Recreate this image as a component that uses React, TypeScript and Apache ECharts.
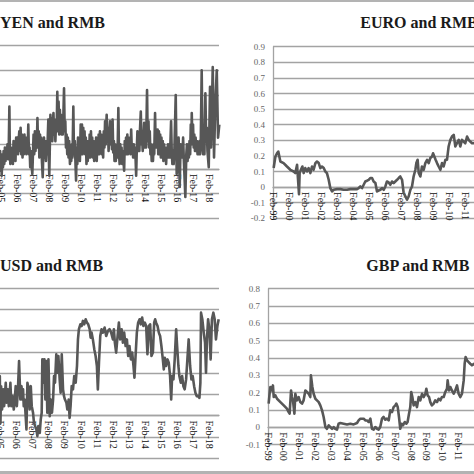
import React, { useEffect, useRef } from "react";
import * as echarts from "echarts";

// x values are years since Feb-1999 (0 = Feb-99)
const yearLabels = [
  "Feb-99", "Feb-00", "Feb-01", "Feb-02", "Feb-03", "Feb-04", "Feb-05", "Feb-06", "Feb-07", "Feb-08",
  "Feb-09", "Feb-10", "Feb-11", "Feb-12", "Feb-13", "Feb-14", "Feb-15", "Feb-16", "Feb-17", "Feb-18", "Feb-19",
];

const titles = ["YEN and RMB", "EURO and RMB", "USD and RMB", "GBP and RMB"];

const yenData = [
  [5.9, 0.05], [5.94, 0.073], [5.97, -0.007], [6.0, 0.06], [6.04, -0.027], [6.08, 0.06], [6.12, 0.007],
  [6.16, 0.073], [6.2, 0.02], [6.24, 0.087], [6.28, 0.033], [6.32, 0.087], [6.36, 0.047], [6.4, 0.1],
  [6.44, 0.04], [6.48, 0.09], [6.52, 0.253], [6.55, 0.06], [6.58, 0.02], [6.62, 0.087], [6.66, 0.033],
  [6.7, 0.08], [6.74, 0.02], [6.78, 0.113], [6.82, 0.04], [6.86, 0.1], [6.9, 0.033], [6.94, 0.127],
  [6.98, 0.073], [7.02, 0.127], [7.06, 0.06], [7.1, 0.12], [7.14, 0.153], [7.18, 0.073], [7.22, 0.167],
  [7.26, 0.06], [7.3, 0.14], [7.34, 0.047], [7.38, 0.127], [7.42, 0.06], [7.46, 0.14], [7.5, 0.073],
  [7.54, 0.127], [7.58, 0.06], [7.62, 0.113], [7.66, 0.073], [7.7, 0.18], [7.74, 0.06], [7.78, 0.087],
  [7.82, 0.007], [7.86, 0.073], [7.9, 0.02], [7.95, -0.02], [7.99, 0.06], [8.03, 0.14], [8.07, 0.06],
  [8.11, 0.153], [8.15, 0.073], [8.19, 0.14], [8.23, 0.087], [8.27, 0.207], [8.31, 0.087], [8.35, 0.153],
  [8.39, 0.047], [8.43, 0.14], [8.47, 0.06], [8.51, 0.127], [8.55, 0.033], [8.6, -0.033], [8.64, 0.073],
  [8.68, 0.127], [8.72, 0.047], [8.76, 0.113], [8.8, 0.033], [8.84, 0.1], [8.88, 0.06], [8.92, 0.14],
  [8.95, 0.2], [8.98, 0.06], [9.01, -0.027], [9.05, 0.113], [9.08, 0.22], [9.12, 0.127], [9.16, 0.207],
  [9.2, 0.113], [9.24, 0.193], [9.27, 0.227], [9.31, 0.14], [9.35, 0.2], [9.39, 0.113], [9.43, 0.187],
  [9.47, 0.153], [9.51, 0.313], [9.55, 0.153], [9.59, 0.273], [9.63, 0.14], [9.67, 0.24], [9.71, 0.153],
  [9.74, 0.22], [9.78, 0.14], [9.82, 0.2], [9.85, 0.14], [9.89, 0.22], [9.93, 0.327], [9.97, 0.153],
  [10.01, 0.193], [10.05, 0.087], [10.09, 0.14], [10.13, 0.06], [10.17, 0.127], [10.21, 0.047], [10.25, 0.113],
  [10.3, 0.02], [10.34, 0.087], [10.38, 0.033], [10.42, 0.1], [10.46, 0.047], [10.51, 0.253], [10.55, 0.06],
  [10.6, 0.113], [10.64, 0.033], [10.68, -0.047], [10.72, 0.087], [10.76, 0.02], [10.8, 0.127], [10.84, 0.047],
  [10.88, 0.113], [10.92, 0.033], [10.97, 0.18], [11.01, 0.06], [11.05, 0.18], [11.09, 0.06], [11.13, 0.167],
  [11.17, 0.073], [11.21, 0.153], [11.25, 0.06], [11.29, 0.127], [11.33, 0.02], [11.37, 0.113], [11.41, 0.033],
  [11.45, 0.1], [11.49, 0.047], [11.53, 0.14], [11.57, 0.047], [11.61, 0.153], [11.65, 0.06], [11.69, 0.127],
  [11.73, 0.047], [11.77, 0.113], [11.81, 0.033], [11.85, 0.1], [11.89, 0.047], [11.93, 0.127], [11.97, 0.033],
  [12.01, 0.113], [12.05, 0.06], [12.09, 0.14], [12.13, 0.06], [12.17, 0.153], [12.21, 0.073], [12.25, 0.14],
  [12.29, 0.06], [12.33, 0.127], [12.37, 0.047], [12.41, 0.153], [12.45, 0.087], [12.49, 0.193], [12.53, 0.1],
  [12.59, 0.22], [12.63, 0.113], [12.67, 0.167], [12.71, 0.073], [12.75, 0.14], [12.8, 0.193], [12.84, 0.1],
  [12.88, 0.167], [12.92, 0.08], [12.96, 0.2], [13.0, 0.067], [13.04, 0.113], [13.08, 0.033], [13.12, 0.1],
  [13.16, 0.033], [13.2, 0.087], [13.24, 0.047], [13.28, 0.1], [13.32, 0.247], [13.36, 0.06], [13.4, 0.02],
  [13.44, 0.1], [13.48, 0.033], [13.52, 0.087], [13.56, 0.02], [13.6, 0.073], [13.64, 0.033], [13.68, -0.007],
  [13.72, 0.113], [13.76, 0.06], [13.8, 0.127], [13.84, 0.06], [13.88, 0.14], [13.92, 0.06], [13.96, 0.127],
  [14.0, 0.073], [14.04, 0.113], [14.08, 0.06], [14.12, 0.16], [14.16, 0.073], [14.2, 0.1], [14.24, 0.047],
  [14.28, 0.1], [14.32, 0.047], [14.36, 0.087], [14.4, 0.033], [14.43, -0.027], [14.47, 0.08], [14.51, 0.153],
  [14.55, 0.073], [14.59, 0.14], [14.63, 0.073], [14.67, 0.16], [14.72, 0.233], [14.76, 0.1], [14.8, 0.127],
  [14.84, 0.073], [14.88, 0.12], [14.93, 0.187], [14.97, 0.087], [15.01, 0.14], [15.05, 0.087], [15.11, 0.32],
  [15.15, 0.113], [15.2, 0.193], [15.24, 0.087], [15.28, 0.153], [15.32, 0.06], [15.36, 0.1], [15.4, 0.033],
  [15.44, 0.087], [15.48, 0.033], [15.52, 0.1], [15.56, 0.06], [15.61, 0.227], [15.65, 0.087], [15.69, 0.113],
  [15.73, 0.087], [15.77, 0.16], [15.81, 0.06], [15.85, 0.153], [15.89, 0.06], [15.93, 0.14], [15.97, 0.047],
  [16.01, 0.127], [16.05, 0.047], [16.09, 0.113], [16.13, 0.033], [16.17, 0.1], [16.21, 0.047], [16.25, 0.087],
  [16.3, 0.02], [16.34, 0.087], [16.38, 0.047], [16.42, 0.1], [16.46, 0.047], [16.5, 0.087], [16.54, 0.047],
  [16.61, 0.193], [16.65, 0.073], [16.69, 0.02], [16.73, 0.073], [16.77, 0.02], [16.81, 0.06], [16.9, 0.3],
  [16.96, -0.02], [17.01, 0.02], [17.08, 0.127], [17.15, -0.073], [17.2, 0.1], [17.24, 0.047], [17.28, 0.1],
  [17.32, 0.047], [17.36, 0.127], [17.4, 0.047], [17.5, -0.113], [17.56, 0.06], [17.6, 0.1], [17.64, 0.033],
  [17.68, 0.1], [17.72, 0.047], [17.76, 0.113], [17.8, 0.06], [17.84, 0.18], [17.88, 0.1], [17.9, 0.227],
  [17.94, 0.113], [17.98, 0.18], [18.02, 0.087], [18.06, 0.14], [18.1, 0.073], [18.14, 0.127], [18.18, 0.073],
  [18.22, 0.113], [18.26, 0.06], [18.3, 0.1], [18.34, 0.06], [18.38, 0.113], [18.42, 0.06], [18.46, 0.1],
  [18.52, 0.4], [18.57, 0.1], [18.61, 0.06], [18.65, 0.113], [18.69, 0.06], [18.75, 0.307], [18.8, 0.113],
  [18.84, 0.167], [18.88, 0.073], [18.96, 0.007], [19.04, 0.333], [19.1, 0.087], [19.21, 0.413], [19.29, 0.047],
  [19.37, 0.26], [19.46, 0.4], [19.54, 0.127], [19.62, 0.18],
];

const euroData = [
  [0.04, 0.122], [0.15, 0.196], [0.25, 0.217], [0.33, 0.228], [0.46, 0.164], [0.66, 0.154], [0.87, 0.132],
  [1.08, 0.111], [1.29, 0.1], [1.39, 0.09], [1.5, 0.143], [1.56, 0.047], [1.62, -0.045], [1.66, 0.09],
  [1.74, 0.111], [1.83, 0.132], [1.91, 0.09], [2.01, 0.122], [2.12, 0.1], [2.22, 0.122], [2.33, 0.09],
  [2.43, 0.132], [2.53, 0.111], [2.64, 0.154], [2.74, 0.164], [2.85, 0.154], [2.95, 0.122], [3.05, 0.132],
  [3.16, 0.122], [3.26, 0.1], [3.36, 0.09], [3.47, 0.047], [3.57, -0.006], [3.68, -0.028], [3.78, -0.017],
  [3.99, -0.013], [4.2, -0.013], [4.4, -0.017], [4.61, -0.017], [4.82, -0.013], [5.03, -0.013], [5.23, -0.013],
  [5.34, -0.006], [5.44, 0.004], [5.55, -0.006], [5.65, 0.015], [5.75, 0.036], [5.86, 0.041], [5.96, 0.047],
  [6.06, 0.058], [6.17, 0.058], [6.27, 0.036], [6.38, 0.026], [6.48, -0.028], [6.58, -0.022], [6.69, -0.017],
  [6.79, -0.006], [6.9, -0.017], [7.0, 0.004], [7.1, 0.036], [7.21, 0.03], [7.31, 0.015], [7.41, 0.036],
  [7.52, 0.026], [7.62, 0.036], [7.73, 0.047], [7.83, 0.058], [7.93, 0.068], [8.04, 0.047], [8.14, -0.038],
  [8.25, -0.06], [8.35, -0.081], [8.45, -0.06], [8.56, -0.017], [8.66, 0.004], [8.76, 0.068], [8.87, 0.111],
  [8.93, 0.154], [9.01, 0.175], [9.08, 0.09], [9.18, 0.068], [9.28, 0.132], [9.39, 0.111], [9.49, 0.154],
  [9.6, 0.175], [9.7, 0.154], [9.8, 0.186], [9.91, 0.196], [9.97, 0.217], [10.05, 0.196], [10.13, 0.175],
  [10.22, 0.154], [10.32, 0.132], [10.43, 0.111], [10.53, 0.154], [10.63, 0.132], [10.74, 0.175], [10.84, 0.175],
  [10.94, 0.26], [11.05, 0.303], [11.15, 0.324], [11.26, 0.335], [11.36, 0.26], [11.46, 0.281], [11.57, 0.303],
  [11.67, 0.26], [11.77, 0.303], [11.88, 0.292], [11.98, 0.281], [12.09, 0.324], [12.19, 0.303], [12.29, 0.292],
  [12.4, 0.281], [12.52, 0.281], [12.7, 0.29],
];

const usdData = [
  [5.9, 0.12], [5.94, 0.186], [5.98, -0.035], [6.02, 0.138], [6.08, 0.028], [6.15, 0.123], [6.21, 0.044],
  [6.31, 0.154], [6.37, 0.06], [6.44, 0.123], [6.5, 0.044], [6.6, 0.154], [6.66, 0.044], [6.73, 0.091],
  [6.81, 0.028], [6.87, 0.075], [6.93, 0.138], [7.0, 0.044], [7.06, 0.107], [7.14, 0.256], [7.22, 0.075],
  [7.29, 0.138], [7.35, 0.075], [7.39, 0.123], [7.43, 0.044], [7.49, 0.075], [7.6, -0.066], [7.66, 0.154],
  [7.74, 0.123], [7.8, 0.028], [7.87, 0.138], [7.93, 0.044], [8.01, 0.013], [8.07, -0.035], [8.14, -0.05],
  [8.22, -0.066], [8.28, -0.097], [8.34, -0.05], [8.43, -0.082], [8.49, -0.019], [8.55, 0.013], [8.59, 0.264],
  [8.65, 0.154], [8.72, 0.264], [8.78, 0.075], [8.84, 0.256], [8.9, 0.013], [8.97, 0.264], [9.05, -0.003],
  [9.11, 0.075], [9.19, 0.013], [9.26, 0.075], [9.32, 0.186], [9.38, 0.154], [9.46, 0.288], [9.53, 0.201],
  [9.59, 0.28], [9.67, 0.17], [9.73, 0.107], [9.8, 0.288], [9.88, 0.123], [9.94, 0.091], [10.0, 0.075],
  [10.09, 0.06], [10.15, 0.028], [10.23, 0.075], [10.29, -0.011], [10.35, 0.044], [10.42, 0.138], [10.5, 0.123],
  [10.58, 0.186], [10.67, 0.154], [10.75, 0.233], [10.81, 0.358], [10.87, 0.406], [10.96, 0.429], [11.04, 0.421],
  [11.12, 0.445], [11.2, 0.429], [11.29, 0.453], [11.37, 0.437], [11.45, 0.429], [11.54, 0.406], [11.6, 0.366],
  [11.66, 0.39], [11.74, 0.358], [11.83, 0.311], [11.91, 0.28], [11.99, 0.233], [12.05, 0.123], [12.12, 0.248],
  [12.2, 0.374], [12.28, 0.406], [12.37, 0.39], [12.47, 0.414], [12.57, 0.374], [12.68, 0.398], [12.78, 0.406],
  [12.88, 0.39], [12.99, 0.358], [13.05, 0.406], [13.11, 0.343], [13.19, 0.296], [13.28, 0.374], [13.36, 0.437],
  [13.44, 0.358], [13.53, 0.406], [13.61, 0.343], [13.69, 0.39], [13.78, 0.327], [13.86, 0.358], [13.94, 0.28],
  [14.02, 0.327], [14.11, 0.264], [14.19, 0.296], [14.27, 0.233], [14.33, 0.178], [14.4, 0.28], [14.48, 0.39],
  [14.56, 0.437], [14.65, 0.453], [14.73, 0.429], [14.81, 0.461], [14.89, 0.421], [14.98, 0.437], [15.06, 0.421],
  [15.14, 0.288], [15.23, 0.421], [15.31, 0.429], [15.39, 0.28], [15.48, 0.296], [15.56, 0.437], [15.62, 0.453],
  [15.68, 0.437], [15.77, 0.421], [15.85, 0.39], [15.93, 0.374], [16.01, 0.327], [16.1, 0.264], [16.16, 0.217],
  [16.22, 0.272], [16.3, 0.233], [16.39, 0.264], [16.47, 0.248], [16.55, 0.186], [16.62, 0.075], [16.68, 0.186],
  [16.76, 0.17], [16.84, 0.264], [16.93, 0.406], [16.99, 0.327], [17.07, 0.233], [17.13, 0.186], [17.22, 0.154],
  [17.3, 0.186], [17.38, 0.138], [17.46, 0.123], [17.55, 0.17], [17.63, 0.264], [17.71, 0.358], [17.8, 0.233],
  [17.88, 0.17], [17.96, 0.186], [18.05, 0.138], [18.13, 0.107], [18.21, 0.091], [18.29, 0.091], [18.38, 0.083],
  [18.44, 0.154], [18.48, 0.484], [18.56, 0.453], [18.65, 0.39], [18.73, 0.343], [18.79, 0.201], [18.85, 0.358],
  [18.92, 0.453], [19.0, 0.406], [19.08, 0.264], [19.16, 0.453], [19.25, 0.484], [19.33, 0.453], [19.41, 0.358],
  [19.5, 0.421], [19.58, 0.453],
];

const gbpData = [
  [0.04, 0.137], [0.1, 0.194], [0.15, 0.233], [0.23, 0.213], [0.31, 0.242], [0.36, 0.175], [0.46, 0.185],
  [0.57, 0.165], [0.78, 0.146], [0.99, 0.127], [1.19, 0.108], [1.3, 0.088], [1.36, 0.079], [1.45, 0.213],
  [1.51, 0.175], [1.57, 0.156], [1.66, 0.079], [1.72, 0.194], [1.82, 0.156], [1.93, 0.175], [2.03, 0.146],
  [2.14, 0.137], [2.24, 0.156], [2.35, 0.213], [2.45, 0.204], [2.56, 0.194], [2.66, 0.175], [2.7, 0.3],
  [2.79, 0.233], [2.87, 0.194], [2.98, 0.165], [3.08, 0.156], [3.19, 0.146], [3.29, 0.127], [3.4, 0.098],
  [3.5, 0.06], [3.61, 0.002], [3.71, -0.008], [3.82, 0.012], [3.92, 0.002], [4.03, -0.008], [4.13, 0.002],
  [4.23, -0.008], [4.34, -0.013], [4.44, 0.021], [4.55, 0.025], [4.76, 0.021], [4.97, 0.017], [5.18, 0.021],
  [5.39, 0.017], [5.6, 0.025], [5.7, 0.04], [5.81, 0.05], [5.91, 0.05], [6.02, 0.05], [6.12, 0.04],
  [6.23, 0.04], [6.33, 0.031], [6.44, 0.05], [6.54, -0.008], [6.65, -0.013], [6.75, 0.002], [6.86, -0.008],
  [6.96, -0.013], [7.06, 0.002], [7.17, 0.05], [7.27, 0.06], [7.38, 0.044], [7.48, 0.05], [7.59, 0.04],
  [7.69, 0.098], [7.8, 0.088], [7.9, 0.117], [8.01, 0.127], [8.07, 0.137], [8.16, 0.117], [8.24, 0.06],
  [8.32, -0.008], [8.41, 0.021], [8.49, 0.012], [8.6, 0.031], [8.7, 0.021], [8.78, 0.031], [8.87, 0.079],
  [8.95, 0.117], [9.01, 0.204], [9.08, 0.175], [9.16, 0.127], [9.27, 0.146], [9.37, 0.117], [9.48, 0.175],
  [9.58, 0.156], [9.69, 0.194], [9.79, 0.175], [9.9, 0.194], [9.96, 0.223], [10.04, 0.185], [10.13, 0.175],
  [10.21, 0.146], [10.31, 0.127], [10.42, 0.137], [10.52, 0.156], [10.63, 0.146], [10.73, 0.165], [10.84, 0.156],
  [10.94, 0.175], [11.05, 0.175], [11.15, 0.204], [11.26, 0.223], [11.3, 0.271], [11.38, 0.213], [11.47, 0.233],
  [11.57, 0.213], [11.68, 0.194], [11.78, 0.213], [11.89, 0.242], [11.99, 0.194], [12.1, 0.175], [12.2, 0.194],
  [12.31, 0.271], [12.37, 0.367], [12.43, 0.406], [12.52, 0.387], [12.62, 0.377], [12.72, 0.367], [12.83, 0.358],
  [12.96, 0.367], [13.1, 0.36],
];

const seriesData = [yenData, euroData, usdData, gbpData];
const yMins = [-0.2, -0.2, -0.2, -0.1];
const yMaxs = [0.5, 0.9, 0.6, 0.8];
// indices into yearLabels of the first / last visible label per panel
const firstLabelIdx = [6, 0, 6, 0];
const lastLabelIdx = [19, 12, 19, 12];
const showYLabels = [false, true, false, true];

const GRID_COLOR = "#a3a3a3";
const LINE_COLOR = "#575757";
const SERIF = "'Liberation Serif', 'Times New Roman', serif";

export default function App() {
  const ref = useRef<HTMLDivElement>(null);

  useEffect(() => {
    if (!ref.current) return;
    const chart = echarts.init(ref.current, null, { renderer: "svg" });

    const gridBoxes = [
      { left: -95.1, top: 45.7, width: 314.1, height: 172.6 },
      { left: 273, top: 46.7, width: 314.6, height: 171.6 },
      { left: -95.5, top: 288, width: 314.5, height: 170 },
      { left: 268, top: 288.7, width: 311.6, height: 156 },
    ];
    const grids = gridBoxes.map((g) => ({ ...g, containLabel: false, outerBoundsMode: "none" }));

    const xAxes = [0, 1, 2, 3].map((i) => ({
      type: "value",
      gridIndex: i,
      min: 0,
      max: 19.6,
      interval: 1,
      // place the category axis at value 0, as in the original
      offset: -(gridBoxes[i].height * (0 - yMins[i])) / (yMaxs[i] - yMins[i]),
      axisLine: { onZero: false, lineStyle: { color: GRID_COLOR, width: 1.3 } },
      axisTick: { show: false },
      splitLine: { show: false },
      axisLabel: {
        rotate: -90,
        margin: 5,
        fontSize: 10,
        fontFamily: SERIF,
        color: "#0d0d0d",
        showMinLabel: true,
        showMaxLabel: true,
        hideOverlap: false,
        formatter: (v: number) => {
          const r = Math.round(v);
          if (Math.abs(v - r) > 1e-6 || r < firstLabelIdx[i] || r > lastLabelIdx[i]) return "";
          return yearLabels[r] || "";
        },
      },
    }));

    const yAxes = [0, 1, 2, 3].map((i) => ({
      type: "value",
      gridIndex: i,
      min: yMins[i],
      max: yMaxs[i],
      interval: 0.1,
      axisLine: { show: true, lineStyle: { color: GRID_COLOR, width: 1.3 } },
      axisTick: { show: false },
      splitLine: { show: true, lineStyle: { color: GRID_COLOR, width: 1.3 } },
      axisLabel: {
        show: showYLabels[i],
        margin: 8,
        fontSize: 9,
        fontFamily: SERIF,
        color: "#666666",
        formatter: (v: number) => String(Math.round(v * 10) / 10),
      },
    }));

    const series = seriesData.map((d, i) => ({
      type: "line",
      xAxisIndex: i,
      yAxisIndex: i,
      data: d,
      showSymbol: false,
      symbol: "none",
      clip: true,
      silent: true,
      lineStyle: { color: LINE_COLOR, width: 2.6, join: "round" },
    }));

    const titlePos = [
      [0, 22.9],
      [360.3, 22.9],
      [0, 265.9],
      [366.3, 265.9],
    ];

    const graphic = [
      { type: "rect", shape: { x: 0, y: 0, width: 474, height: 2 }, style: { fill: "#b3b3b3" }, silent: true },
      { type: "rect", shape: { x: 0, y: 471, width: 474, height: 3 }, style: { fill: "#b3b3b3" }, silent: true },
      ...titles.map((t, i) => ({
        type: "text",
        x: titlePos[i][0],
        y: titlePos[i][1],
        silent: true,
        style: {
          text: t,
          fontSize: 16,
          fontWeight: "bold",
          fontFamily: SERIF,
          fill: "#1a1a1a",
          align: "left",
          verticalAlign: "middle",
        },
      })),
    ];

    chart.setOption({
      animation: false,
      backgroundColor: "#ffffff",
      grid: grids,
      xAxis: xAxes,
      yAxis: yAxes,
      series,
      graphic,
    });

    return () => chart.dispose();
  }, []);

  return (
    <div
      ref={ref}
      style={{ position: "fixed", left: 0, top: 0, width: 474, height: 474, background: "#fff" }}
    />
  );
}
